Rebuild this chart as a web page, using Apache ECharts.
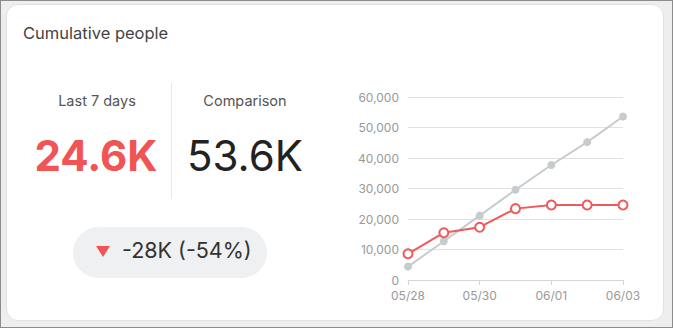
<!DOCTYPE html>
<html><head><meta charset="utf-8">
<script src="https://cdn.jsdelivr.net/npm/echarts@6/dist/echarts.min.js"></script>
<style>
html,body{margin:0;padding:0;}
body{width:673px;height:328px;position:relative;background:#eeeeee;font-family:Inter,Roboto,"Noto Sans",sans-serif;overflow:hidden;}
#frame{position:absolute;left:0;top:0;width:671px;height:326px;border:1px solid #8c8c8c;}
#card{position:absolute;left:6px;top:4px;width:658px;height:317px;background:#fff;border-radius:12px;border:1px solid #e2e2e2;box-sizing:border-box;}
.t{position:absolute;white-space:nowrap;}
#title{left:23px;top:23px;font-size:16.5px;color:#444;}
#l1{left:97px;top:92px;transform:translateX(-50%);font-size:14.5px;color:#555;}
#l2{left:245px;top:92px;transform:translateX(-50%);font-size:14.5px;color:#555;}
#v1{left:96px;top:130px;transform:translateX(-50%);font-size:42px;font-weight:700;color:#f05454;}
#v2{left:245px;top:130px;transform:translateX(-50%);font-size:42px;font-weight:400;color:#222;}
#div{position:absolute;left:171px;top:83px;width:1px;height:116px;background:#e6e8ec;}
#pill{position:absolute;left:73px;top:227px;width:194px;height:51px;border-radius:26px;background:#eef0f1;}
#tri{position:absolute;left:96px;top:246px;width:0;height:0;border-left:7px solid transparent;border-right:7px solid transparent;border-top:11px solid #f05454;}
#delta{left:122px;top:237px;font-size:21.5px;color:#333;}
#chart{position:absolute;left:0;top:0;width:673px;height:328px;}
</style></head>
<body>
<div id="frame"></div>
<div id="card"></div>
<div class="t" id="title">Cumulative people</div>
<div class="t" id="l1">Last 7 days</div>
<div class="t" id="l2">Comparison</div>
<div class="t" id="v1">24.6K</div>
<div class="t" id="v2">53.6K</div>
<div id="div"></div>
<div id="pill"></div>
<div id="tri"></div>
<div class="t" id="delta">-28K (-54%)</div>
<div id="chart"></div>
<script>
const categories = ['05/28','05/29','05/30','05/31','06/01','06/02','06/03'];
const last7Days = [8600, 15500, 17300, 23400, 24600, 24600, 24600];
const comparison = [4400, 12700, 21100, 29600, 37700, 45200, 53600];
const yTicks = [0, 10000, 20000, 30000, 40000, 50000, 60000];

const chart = echarts.init(document.getElementById('chart'), null, {renderer:'svg'});
chart.setOption({
  animation:false,
  grid:{left:408, right:50, top:97, bottom:48},
  xAxis:{
    type:'category', data:categories, boundaryGap:false,
    axisLine:{lineStyle:{color:'#d5d8da'}},
    axisTick:{show:true, interval:1, length:5, lineStyle:{color:'#d5d8da'}},
    axisLabel:{interval:1, color:'#999', fontSize:12, margin:9, fontFamily:'Inter, Roboto, sans-serif'}
  },
  yAxis:{
    type:'value', min:yTicks[0], max:yTicks[yTicks.length-1], interval:10000,
    axisLine:{show:false}, axisTick:{show:false},
    splitLine:{lineStyle:{color:'#dfe2e4'}},
    axisLabel:{color:'#999', fontSize:12, margin:9, fontFamily:'Inter, Roboto, sans-serif',
      formatter:v=>v.toLocaleString('en-US')}
  },
  series:[
    {name:'Comparison', type:'line', data:comparison, symbol:'circle', symbolSize:8,
     lineStyle:{color:'#c8cbcd', width:2}, itemStyle:{color:'#c8cbcd'}, z:2},
    {name:'Last 7 days', type:'line', data:last7Days, symbol:'emptyCircle', symbolSize:9,
     lineStyle:{color:'#f05a5a', width:2}, itemStyle:{color:'#f05a5a', borderWidth:2, borderColor:'#f05a5a'}, z:3}
  ]
});
</script>
</body></html>
